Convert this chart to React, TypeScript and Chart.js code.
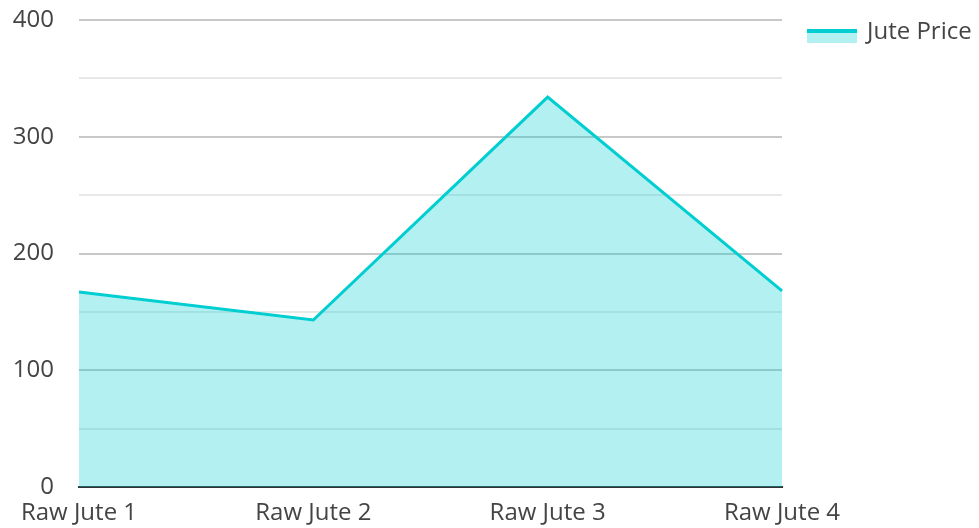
import React, { useEffect, useRef } from "react";
import { Chart, registerables } from "chart.js";

Chart.register(...registerables);

const categories = ["Raw Jute 1", "Raw Jute 2", "Raw Jute 3", "Raw Jute 4"];
const seriesLabel = "Jute Price";
const prices = [167, 143, 334, 168];
const yTickValues = [0, 100, 200, 300, 400];

const LINE = "#00CED1";
const FILL = "rgba(0, 206, 209, 0.3)";
const TEXT = "#444444";
const FONT = "'Open Sans', sans-serif";
const FONT_SIZE = 24;

const legendPlugin = {
  id: "customLegend",
  afterDraw(chart: any) {
    const { ctx, chartArea } = chart;
    const x = chartArea.right + 25;
    const y = 29;
    ctx.save();
    ctx.fillStyle = FILL;
    ctx.fillRect(x, y + 4, 50, 10);
    ctx.fillStyle = LINE;
    ctx.fillRect(x, y, 50, 4);
    ctx.fillStyle = TEXT;
    ctx.font = `${FONT_SIZE}px ${FONT}`;
    ctx.textBaseline = "middle";
    ctx.textAlign = "left";
    ctx.fillText(chart.data.datasets[0].label, x + 60, y + 3);
    ctx.restore();
  },
};

export default function App() {
  const ref = useRef<HTMLCanvasElement | null>(null);
  useEffect(() => {
    if (!ref.current) return;
    const chart = new Chart(ref.current, {
      type: "line",
      data: {
        labels: categories,
        datasets: [
          {
            label: seriesLabel,
            data: prices,
            borderColor: LINE,
            backgroundColor: FILL,
            borderWidth: 3,
            fill: "origin",
            pointRadius: 0,
            tension: 0,
          },
        ],
      },
      options: {
        animation: false,
        responsive: false,
        layout: { padding: { top: 0, right: 197, left: 0, bottom: 0 } },
        plugins: {
          legend: { display: false },
          tooltip: { enabled: false },
        },
        scales: {
          x: {
            offset: false,
            z: 1,
            grid: { display: false, drawTicks: false },
            border: { display: true, color: "#333333", width: 2 },
            ticks: {
              color: TEXT,
              font: { family: FONT, size: FONT_SIZE },
              padding: 12,
              maxRotation: 0,
              autoSkip: false,
            },
            afterFit: (s: any) => {
              s.height = 41;
            },
          },
          y: {
            min: 0,
            max: 400,
            border: { display: false },
            grid: {
              drawTicks: false,
              color: (c: any) =>
                c.tick && c.tick.value % 100 === 0 ? "#c8c8c8" : "#e8e8e8",
              lineWidth: 2,
            },
            ticks: {
              stepSize: 50,
              color: TEXT,
              font: { family: FONT, size: FONT_SIZE },
              padding: 25,
              callback: (v: any) => (yTickValues.includes(Number(v)) ? String(v) : ""),
            },
            afterFit: (s: any) => {
              s.width = 79;
              s.paddingTop = 20;
              s.paddingBottom = 0;
            },
          },
        },
      },
      plugins: [legendPlugin],
    });
    return () => chart.destroy();
  }, []);
  return (
    <div
      style={{
        position: "fixed",
        left: 0,
        top: 0,
        width: 979,
        height: 528,
        overflow: "hidden",
        background: "#ffffff",
      }}
    >
      <canvas ref={ref} width={979} height={528} style={{ display: "block" }} />
    </div>
  );
}
